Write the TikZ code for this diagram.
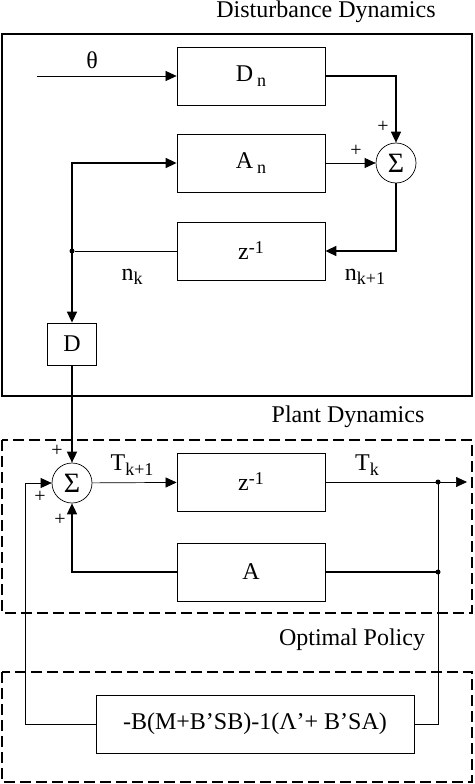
\documentclass[tikz,border=0pt]{standalone}
\usepackage{fontspec}
\setmainfont{Liberation Serif}
\usetikzlibrary{arrows.meta}
\newcommand{\lowtx}[1]{\raisebox{-0.42ex}{\fontsize{18}{20}\selectfont #1}}
\newcommand{\hightx}[1]{\raisebox{0.55ex}{\fontsize{18}{20}\selectfont #1}}
\begin{document}
\begin{tikzpicture}[x=1pt,y=-1pt,
  blk/.style={draw, line width=0.8pt, minimum width=148pt, minimum height=58pt, inner sep=0pt, font=\fontsize{24}{26}\selectfont},
  sum/.style={draw, circle, line width=0.7pt, minimum size=40pt, inner sep=0pt, font=\fontsize{28}{30}\selectfont},
  lbl/.style={font=\fontsize{24}{26}\selectfont},
  sgn/.style={font=\fontsize{20}{22}\selectfont},
  jn/.style={circle, fill, inner sep=0pt, minimum size=5pt},
  tip/.style={-{Triangle[length=11pt,width=10pt]}},
  wire/.style={line width=0.7pt},
  heavy/.style={line width=1.6pt},
  grp/.style={line width=2.5pt, dash pattern=on 11pt off 5pt}
]
\useasboundingbox (0,0) rectangle (474,784);
\node[lbl] (ttl1) at (326,12) {Disturbance Dynamics};
\draw[line width=1.8pt] (2,34) rectangle (472,396);
\coordinate (th) at (37,76);
\node[lbl] (thl) at (92,60) {θ};
\node[blk] (Dn) at (251,76) {D\,\lowtx{n}};
\node[blk] (An) at (251,163) {A\,\lowtx{n}};
\node[blk] (z1) at (251,251) {z\hightx{-1}};
\node[sum] (S1) at (396,163) {Σ};
\node[sgn] (p1) at (383,127) {+};
\node[sgn] (p2) at (356,151) {+};
\node[jn] (j1) at (72,251) {};
\node[draw, line width=0.8pt, minimum width=49pt, minimum height=42pt, inner sep=0pt, font=\fontsize{24}{26}\selectfont] (D) at (72,344) {D};
\node[lbl] (nk) at (132,277) {n\lowtx{k}};
\node[lbl] (nk1) at (365,277) {n\lowtx{k+1}};
\draw[wire,tip] (th) -- (Dn);
\draw[heavy,tip] (Dn.east) -| (S1.north);
\draw[wire,tip] (An) -- (S1);
\draw[heavy,tip] (S1.south) |- (z1.east);
\draw[wire] (z1.west) -- (j1);
\draw[heavy,tip] (j1.center) |- (An.west);
\draw[heavy,tip] (j1.center) -- (D.north);
\node[lbl] (ttl2) at (348,417) {Plant Dynamics};
\draw[grp] (2,440) rectangle (472,613);
\node[sum] (S2) at (72,483) {Σ};
\node[sgn] (p3) at (57,451) {+};
\node[sgn] (p4) at (40,497) {+};
\node[sgn] (p5) at (60,520) {+};
\node[blk] (z2) at (251,482) {z\hightx{-1}};
\node[blk] (A) at (251,572) {A};
\node[lbl] (tk1) at (132,465) {T\lowtx{k+1}};
\node[lbl] (tk) at (367,465) {T\lowtx{k}};
\coordinate (out) at (467,482);
\node[jn] (j2) at (438,482) {};
\node[jn] (j3) at (438,572) {};
\draw[heavy,tip] (D.south) -- (S2.north);
\draw[wire,tip] (S2) -- (z2);
\draw[wire,tip] (z2.east) -- (out);
\draw[wire] (j2.center) -- (j3.center);
\draw[heavy] (A.east) -- (j3.center);
\draw[heavy,tip] (A.west) -| (S2.south);
\node[lbl] (ttl3) at (352,640) {Optimal Policy};
\draw[grp] (2,672) rectangle (472,782);
\node[blk, minimum width=318pt] (pol) at (255,724) {-B(M+B’SB)-1(Λ’+ B’SA)};
\coordinate (c1) at (25,483);
\draw[wire] (j3.center) |- (pol.east);
\draw[wire,tip] (pol.west) -| (c1) -- (S2.west);
\end{tikzpicture}
\end{document}
